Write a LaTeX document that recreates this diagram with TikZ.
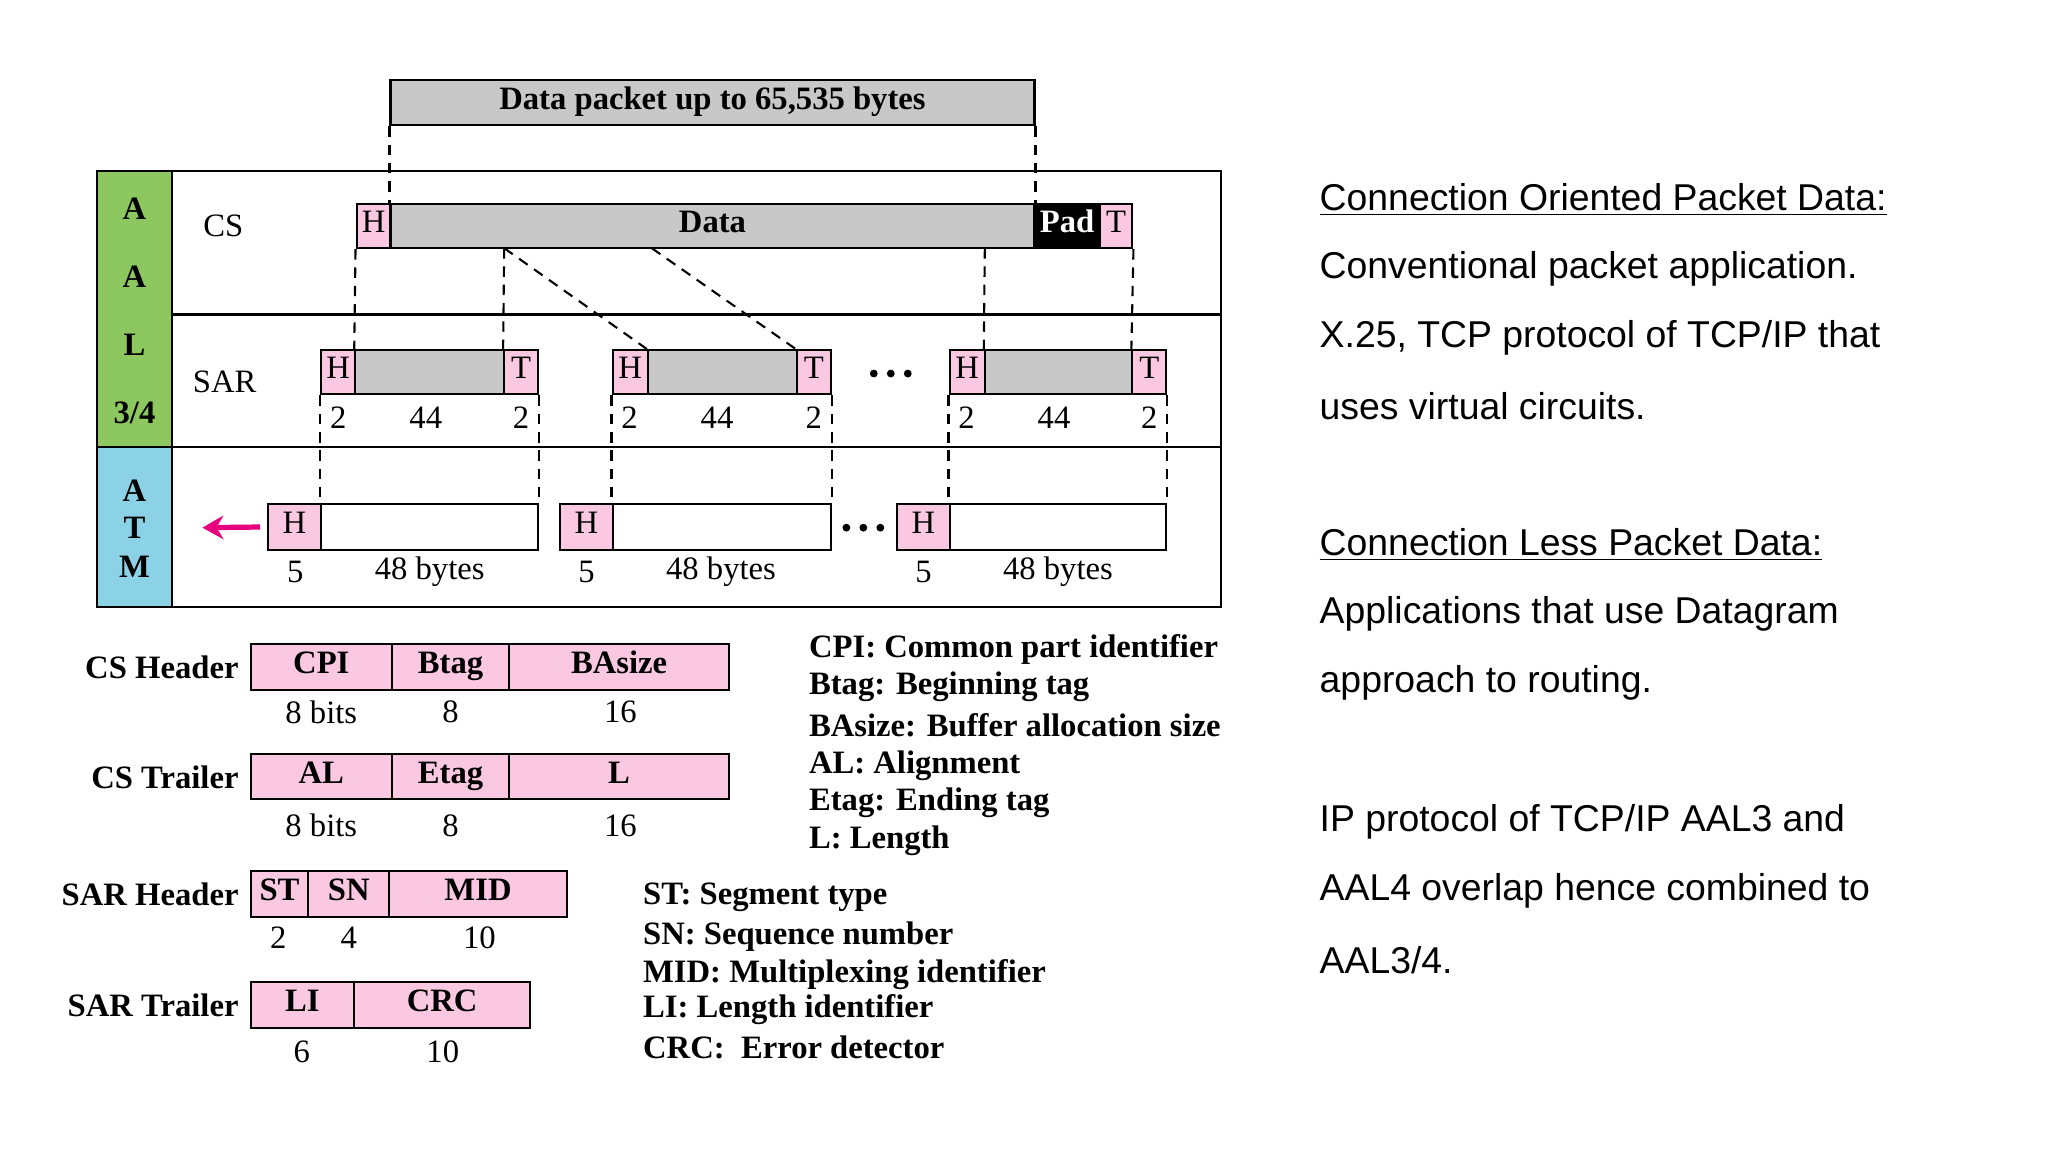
\documentclass[tikz,border=0pt]{standalone}
\usepackage{fontspec}
\setmainfont{Liberation Serif}
\newfontfamily\sansf{Liberation Sans}
\usetikzlibrary{arrows.meta}
\definecolor{pk}{RGB}{250,200,225}
\definecolor{gr}{RGB}{200,200,200}
\definecolor{grn}{RGB}{140,200,95}
\definecolor{blu}{RGB}{140,210,230}
\definecolor{mag}{RGB}{230,0,126}
\tikzset{
 fld/.style={draw,thick,inner sep=0,text height=8pt,text depth=3pt,font=\fontsize{12.5}{12.5}\selectfont},
 pkf/.style={fld,fill=pk},
 grf/.style={fld,fill=gr},
 whf/.style={fld,fill=white},
 bkf/.style={fld,fill=black,text=white,font=\bfseries\fontsize{12.5}{12.5}\selectfont},
 bf/.style={font=\bfseries\fontsize{12.5}{12.5}\selectfont},
 lbl/.style={font=\fontsize{12.5}{12.5}\selectfont,inner sep=0},
 dsh/.style={thick,dash pattern=on 4pt off 3pt},
 leg/.style={font=\bfseries\fontsize{12.5}{12.5}\selectfont,anchor=west,inner sep=0},
 rt/.style={font=\sansf\fontsize{14.3}{14.3}\selectfont,anchor=west,inner sep=0},
 dot/.style={circle,fill=black,inner sep=0,minimum size=3pt},
}
\newcommand{\fld}[7]{\node[#7,minimum width={(#4-#2)*0.5pt},minimum height={(#5-#3)*0.5pt}] (#1) at ({(#2+#4)/2},{(#3+#5)/2}) {#6};}
\begin{document}
\begin{tikzpicture}[x=0.5pt,y=-0.5pt]
\useasboundingbox (0,0) rectangle (1568,882);
% top
\fld{top}{299}{61}{792}{96}{\bfseries Data packet up to 65,535 bytes}{grf}
% frame
\fill[grn] (74,131) rectangle (132,342);
\fill[blu] (74,342) rectangle (132,465);
\draw[thick] (74,131) rectangle (935,465);
\draw[thick] (132,131) -- (132,465);
\draw[very thick] (132,241) -- (935,241);
\draw[thick] (74,342) -- (935,342);
\foreach \t/\y in {A/160,A/212,L/264,3\slash4/316,A/376,T/404,M/434}
  \node[bf,inner sep=0] at (103,\y) {\t};
\node[lbl] (cs) at (171,173) {CS};
\node[lbl] (sar) at (172,292) {SAR};
% CS row
\fld{cH}{273}{156}{299}{190}{H}{pkf}
\fld{cD}{299}{156}{792}{190}{\bfseries Data}{grf}
\fld{cP}{792}{156}{842}{190}{Pad}{bkf}
\fld{cT}{842}{156}{867}{190}{T}{pkf}
\draw[dsh] (top.south west) -- (cD.north west);
\draw[dsh] (top.south east) -- (cD.north east);
% SAR row
\fld{s1H}{246}{268}{272}{302}{H}{pkf}
\fld{s1D}{272}{268}{386}{302}{}{grf}
\fld{s1T}{386}{268}{412}{302}{T}{pkf}
\fld{s2H}{469}{268}{496}{302}{H}{pkf}
\fld{s2D}{496}{268}{610}{302}{}{grf}
\fld{s2T}{610}{268}{636}{302}{T}{pkf}
\fld{s3H}{727}{268}{754}{302}{H}{pkf}
\fld{s3D}{754}{268}{867}{302}{}{grf}
\fld{s3T}{867}{268}{893}{302}{T}{pkf}
\foreach \x in {669,682,695} \node[dot] at (\x,286) {};
\coordinate (c1) at (386,190);
\coordinate (c2) at (499,190);
\coordinate (c3) at (754,190);
\draw[dsh] (cH.south west) -- (s1D.north west);
\draw[dsh] (c1) -- (s1T.north west);
\draw[dsh] (c1) -- (s2D.north west);
\draw[dsh] (c2) -- (s2T.north west);
\draw[dsh] (c3) -- (s3D.north west);
\draw[dsh] (cT.south east) -- (s3T.north west);
\foreach \a/\b/\c/\d in {259/326/399/s1,482/549/623/s2,740/807/880/s3}{
  \node[lbl] at (\a,320) {2}; \node[lbl] at (\b,320) {44}; \node[lbl] at (\c,320) {2};}
% ATM row
\fld{a1H}{205}{386}{246}{421}{H}{pkf}
\fld{a1D}{246}{386}{412}{421}{}{whf}
\fld{a2H}{429}{386}{469}{421}{H}{pkf}
\fld{a2D}{469}{386}{636}{421}{}{whf}
\fld{a3H}{687}{386}{727}{421}{H}{pkf}
\fld{a3D}{727}{386}{893}{421}{}{whf}
\foreach \x in {648,661,674} \node[dot] at (\x,404) {};
\draw[dsh] (s1H.south west) -- (a1D.north west);
\draw[dsh] (s1T.south east) -- (a1D.north east);
\draw[dsh] (s2H.south west) -- (a2D.north west);
\draw[dsh] (s2T.south east) -- (a2D.north east);
\draw[dsh] (s3H.south west) -- (a3D.north west);
\draw[dsh] (s3T.south east) -- (a3D.north east);
\coordinate (arr) at (155,404);
\draw[mag,line width=2pt,-{Stealth[length=8pt,width=9pt]}] (a1H.west) ++(-5,0) -- (arr);
\foreach \a/\b in {226/329,449/552,707/810}{
  \node[lbl] at (\a,438) {5}; \node[lbl] at (\b,438) {48 bytes};}
% lower fields
\node[bf,anchor=east,inner sep=0] at (183,511) {CS Header};
\fld{f1}{192}{493}{300}{528}{\bfseries CPI}{pkf}
\fld{f2}{300}{493}{390}{528}{\bfseries Btag}{pkf}
\fld{f3}{390}{493}{558}{528}{\bfseries BAsize}{pkf}
\node[lbl] at (246,545) {8 bits}; \node[lbl] at (345,545) {8}; \node[lbl] at (475,545) {16};
\node[bf,anchor=east,inner sep=0] at (183,595) {CS Trailer};
\fld{g1}{192}{577}{300}{612}{\bfseries AL}{pkf}
\fld{g2}{300}{577}{390}{612}{\bfseries Etag}{pkf}
\fld{g3}{390}{577}{558}{612}{\bfseries L}{pkf}
\node[lbl] at (246,632) {8 bits}; \node[lbl] at (345,632) {8}; \node[lbl] at (475,632) {16};
\node[bf,anchor=east,inner sep=0] at (183,685) {SAR Header};
\fld{h1}{192}{667}{236}{702}{\bfseries ST}{pkf}
\fld{h2}{236}{667}{298}{702}{\bfseries SN}{pkf}
\fld{h3}{298}{667}{434}{702}{\bfseries MID}{pkf}
\node[lbl] at (213,718) {2}; \node[lbl] at (267,718) {4}; \node[lbl] at (367,718) {10};
\node[bf,anchor=east,inner sep=0] at (183,770) {SAR Trailer};
\fld{t1}{192}{752}{271}{787}{\bfseries LI}{pkf}
\fld{t2}{271}{752}{406}{787}{\bfseries CRC}{pkf}
\node[lbl] at (231,805) {6}; \node[lbl] at (339,805) {10};
% legends
\node[leg] at (619,497) {CPI: Common part identifier};
\node[leg] at (619,526) {Btag: Beginning tag};
\node[leg] at (619,555) {BAsize: Buffer allocation size};
\node[leg] at (619,586) {AL: Alignment};
\node[leg] at (619,615) {Etag: Ending tag};
\node[leg] at (619,644) {L: Length};
\node[leg] at (492,687) {ST: Segment type};
\node[leg] at (492,717) {SN: Sequence number};
\node[leg] at (492,746) {MID: Multiplexing identifier};
\node[leg] at (492,773) {LI: Length identifier};
\node[leg] at (492,802) {CRC:\ \ Error detector};
% right text
\node[rt] at (1010,153) {\underline{Connection Oriented Packet Data:}};
\node[rt] at (1010,206) {Conventional packet application.};
\node[rt] at (1010,259) {X.25, TCP protocol of TCP/IP that};
\node[rt] at (1010,311) {uses virtual circuits.};
\node[rt] at (1010,417) {\underline{Connection Less Packet Data:}};
\node[rt] at (1010,470) {Applications that use Datagram};
\node[rt] at (1010,523) {approach to routing.};
\node[rt] at (1010,629) {IP protocol of TCP/IP AAL3 and};
\node[rt] at (1010,682) {AAL4 overlap hence combined to};
\node[rt] at (1010,735) {AAL3/4.};
\end{tikzpicture}
\end{document}
